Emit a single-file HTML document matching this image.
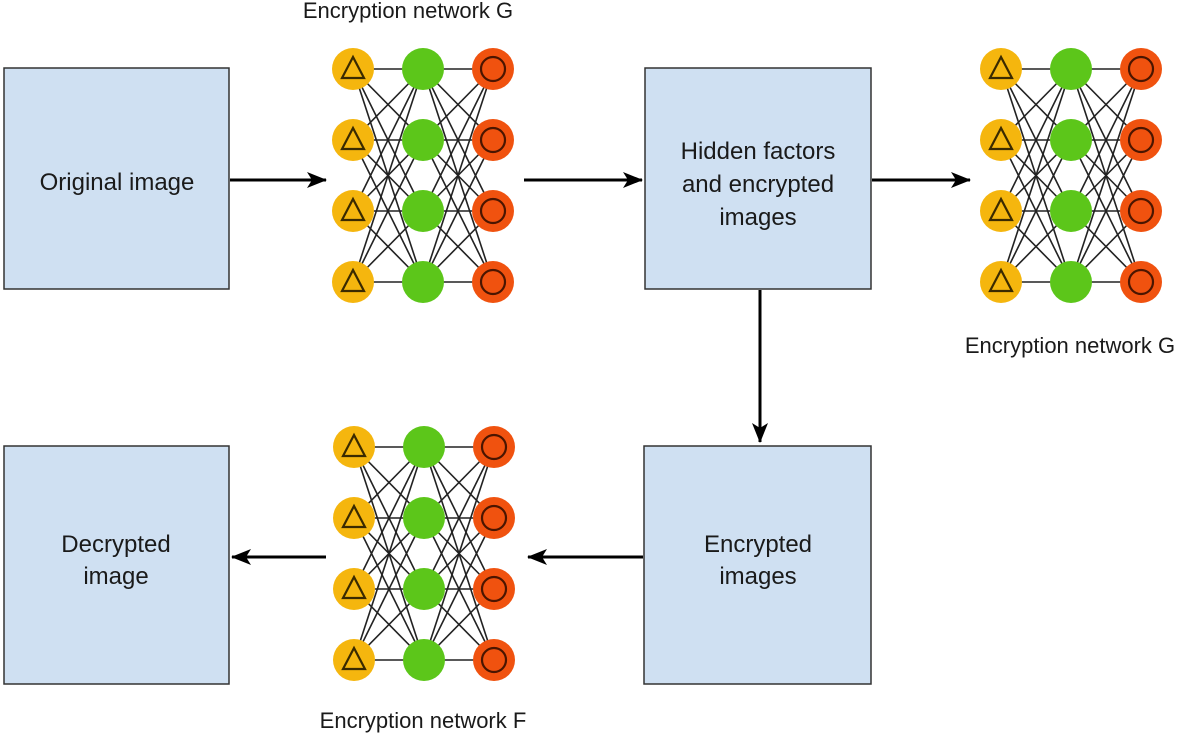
<!DOCTYPE html>
<html><head><meta charset="utf-8"><style>
body{margin:0;background:#fff;}
svg{display:block;font-family:"Liberation Sans",Arial,sans-serif;}
</style></head><body>
<svg width="1200" height="737" viewBox="0 0 1200 737" xmlns="http://www.w3.org/2000/svg">
<defs>
<marker id="ah" markerWidth="20" markerHeight="16" refX="19" refY="8" orient="auto" markerUnits="userSpaceOnUse">
<path d="M0,0 L20,8 L0,16 L5,8 Z" fill="#000"/>
</marker>
<g id="net">
<g stroke="#222" stroke-width="1.6">
<line x1="0" y1="0" x2="70" y2="0"/><line x1="0" y1="0" x2="70" y2="71"/><line x1="0" y1="0" x2="70" y2="142"/><line x1="0" y1="0" x2="70" y2="213"/>
<line x1="0" y1="71" x2="70" y2="0"/><line x1="0" y1="71" x2="70" y2="71"/><line x1="0" y1="71" x2="70" y2="142"/><line x1="0" y1="71" x2="70" y2="213"/>
<line x1="0" y1="142" x2="70" y2="0"/><line x1="0" y1="142" x2="70" y2="71"/><line x1="0" y1="142" x2="70" y2="142"/><line x1="0" y1="142" x2="70" y2="213"/>
<line x1="0" y1="213" x2="70" y2="0"/><line x1="0" y1="213" x2="70" y2="71"/><line x1="0" y1="213" x2="70" y2="142"/><line x1="0" y1="213" x2="70" y2="213"/>
<line x1="70" y1="0" x2="140" y2="0"/><line x1="70" y1="0" x2="140" y2="71"/><line x1="70" y1="0" x2="140" y2="142"/><line x1="70" y1="0" x2="140" y2="213"/>
<line x1="70" y1="71" x2="140" y2="0"/><line x1="70" y1="71" x2="140" y2="71"/><line x1="70" y1="71" x2="140" y2="142"/><line x1="70" y1="71" x2="140" y2="213"/>
<line x1="70" y1="142" x2="140" y2="0"/><line x1="70" y1="142" x2="140" y2="71"/><line x1="70" y1="142" x2="140" y2="142"/><line x1="70" y1="142" x2="140" y2="213"/>
<line x1="70" y1="213" x2="140" y2="0"/><line x1="70" y1="213" x2="140" y2="71"/><line x1="70" y1="213" x2="140" y2="142"/><line x1="70" y1="213" x2="140" y2="213"/>
</g>
<g fill="#f5b60e">
<circle cx="0" cy="0" r="21"/><circle cx="0" cy="71" r="21"/><circle cx="0" cy="142" r="21"/><circle cx="0" cy="213" r="21"/>
</g>
<g fill="none" stroke="#3a2a00" stroke-width="2.2">
<path d="M0,-12 L-11,9 L11,9 Z"/><path d="M0,59 L-11,80 L11,80 Z"/><path d="M0,130 L-11,151 L11,151 Z"/><path d="M0,201 L-11,222 L11,222 Z"/>
</g>
<g fill="#5cc61a">
<circle cx="70" cy="0" r="21"/><circle cx="70" cy="71" r="21"/><circle cx="70" cy="142" r="21"/><circle cx="70" cy="213" r="21"/>
</g>
<g fill="#f0520f">
<circle cx="140" cy="0" r="21"/><circle cx="140" cy="71" r="21"/><circle cx="140" cy="142" r="21"/><circle cx="140" cy="213" r="21"/>
</g>
<g fill="none" stroke="#4a1500" stroke-width="2.2">
<circle cx="140" cy="0" r="12"/><circle cx="140" cy="71" r="12"/><circle cx="140" cy="142" r="12"/><circle cx="140" cy="213" r="12"/>
</g>
</g>
</defs>

<g fill="#cfe0f2" stroke="#333" stroke-width="1.5">
<rect x="4" y="68" width="225" height="221"/>
<rect x="645" y="68" width="226" height="221"/>
<rect x="4" y="446" width="225" height="238"/>
<rect x="644" y="446" width="227" height="238"/>
</g>

<use href="#net" x="353" y="69"/>
<use href="#net" x="1001" y="69"/>
<use href="#net" x="354" y="447"/>

<g stroke="#000" stroke-width="3" marker-end="url(#ah)">
<line x1="230" y1="180" x2="326" y2="180"/>
<line x1="524" y1="180" x2="642" y2="180"/>
<line x1="872" y1="180" x2="970" y2="180"/>
<line x1="760" y1="290" x2="760" y2="442"/>
<line x1="643" y1="557" x2="528" y2="557"/>
<line x1="326" y1="557" x2="232" y2="557"/>
</g>

<g font-size="24" fill="#1a1a1a" text-anchor="middle">
<text x="117" y="190">Original image</text>
<text x="758" y="159">Hidden factors</text>
<text x="758" y="192">and encrypted</text>
<text x="758" y="225">images</text>
<text x="116" y="552">Decrypted</text>
<text x="116" y="584">image</text>
<text x="758" y="552">Encrypted</text>
<text x="758" y="584">images</text>
<text x="408" y="18" font-size="22">Encryption network G</text>
<text x="1070" y="353" font-size="22">Encryption network G</text>
<text x="423" y="728" font-size="22">Encryption network F</text>
</g>
</svg>
</body></html>
